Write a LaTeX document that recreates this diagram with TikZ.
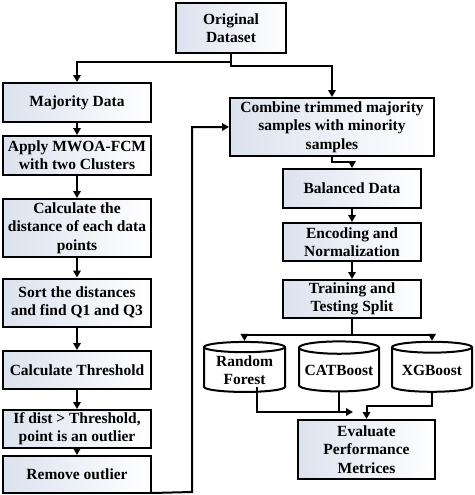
\documentclass[tikz,border=0pt]{standalone}
\usepackage{fontspec}
\setmainfont{Liberation Serif}
\usetikzlibrary{arrows.meta,shapes.geometric}
\definecolor{boxl}{RGB}{220,226,238}
\tikzset{
  x=1pt,y=-1pt,
  lbl/.style={font=\fontsize{15.5}{18.3}\selectfont\bfseries, align=center, inner sep=0pt},
  box/.style={lbl, draw=black, line width=2pt, rectangle, left color=boxl, right color=white},
  cyl/.style={lbl, draw=black, line width=2pt, cylinder, shape border rotate=90, aspect=0.18, fill=white},
  arr/.style={line width=2pt, -{Triangle[length=7pt,width=7.5pt]}},
  ln/.style={line width=2pt},
}
\begin{document}
\begin{tikzpicture}
\useasboundingbox (0,0) rectangle (474,495);
% left column
\node[box, minimum width=110, minimum height=50] (orig) at (231,28) {Original\\Dataset};
\node[box, minimum width=148, minimum height=39] (maj) at (77,102.5) {Majority Data};
\node[box, minimum width=148, minimum height=39] (apply) at (77,155.5) {Apply MWOA-FCM\\with two Clusters};
\node[box, minimum width=148, minimum height=58] (calc) at (77,228) {Calculate the\\distance of each data\\points};
\node[box, minimum width=148, minimum height=48] (sort) at (77,302.5) {Sort the distances\\and find Q1 and Q3};
\node[box, minimum width=148, minimum height=38] (thr) at (77,370) {Calculate Threshold};
\node[box, minimum width=148, minimum height=38] (ifd) at (77,429) {If dist > Threshold,\\point is an outlier};
\node[box, minimum width=148, minimum height=37] (rem) at (77,474.5) {Remove outlier};
% right column
\node[box, minimum width=204, minimum height=58] (comb) at (332,127) {Combine trimmed majority\\samples with minority\\samples};
\node[box, minimum width=138, minimum height=39] (bal) at (352,188.5) {Balanced Data};
\node[box, minimum width=138, minimum height=38] (enc) at (352,242) {Encoding and\\Normalization};
\node[box, minimum width=138, minimum height=38] (trn) at (352,299) {Training and\\Testing Split};
\node[cyl, minimum width=81, minimum height=50] (rf) at (244.5,370) {Random\\Forest};
\node[cyl, minimum width=80, minimum height=50] (cat) at (339,370) {CATBoost};
\node[cyl, minimum width=80, minimum height=50] (xgb) at (432,370) {XGBoost};
\node[box, minimum width=137, minimum height=59] (eval) at (366.5,449.5) {Evaluate\\Performance\\Metrices};
% coordinates
\coordinate (split) at (352,335);
\coordinate (rfout) at (257,387);
\coordinate (join) at (353,412);
\coordinate (loop) at (192,492);
% connectors
\draw[arr] (orig.south) -- (231,62) -| (maj.north);
\draw[arr] (orig.south) -- (231,66) -| (comb.north);
\draw[arr] (maj) -- (apply);
\draw[arr] (apply) -- (calc);
\draw[arr] (calc) -- (sort);
\draw[arr] (sort) -- (thr);
\draw[arr] (thr) -- (ifd);
\draw[arr] (ifd) -- (rem);
\draw[arr] ([yshift=1pt]rem.south east) -- (loop) |- (comb.west);
\draw[arr] (comb.south) -- (332,162) -| (bal.north);
\draw[arr] (bal) -- (enc);
\draw[arr] (enc) -- (trn);
\draw[ln] (trn.south) -- (split);
\draw[arr] (split) -| (rf.north);
\draw[arr] (split) -| (xgb.north);
\draw[arr] (rfout) |- (join);
\draw[ln] (cat.south) -- (cat.south |- join);
\draw[arr] (xgb.south) -- (432,406) -| (eval.north);
\end{tikzpicture}
\end{document}
